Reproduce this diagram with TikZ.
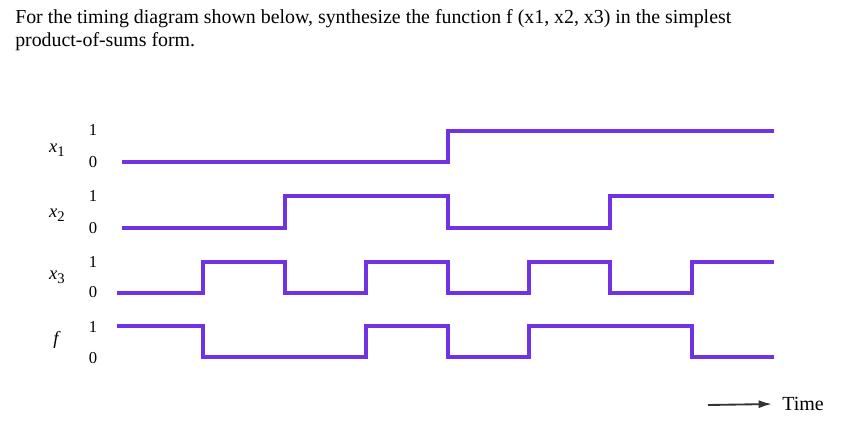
\documentclass[tikz,border=0pt]{standalone}
\usepackage{fontspec}
\setmainfont{Liberation Serif}
\usetikzlibrary{arrows.meta}
\definecolor{wavepurple}{RGB}{112,50,226}
\newcommand{\sig}[2]{\fontsize{14}{16}\selectfont\textit{#1}\raisebox{-0.45ex}{\fontsize{11}{12}\selectfont #2}}
\begin{document}
\begin{tikzpicture}[x=0.75pt, y=-0.75pt]
        \useasboundingbox (0, 0) rectangle (844, 447);
        \tikzset{wave/.style={line width=3pt, wavepurple}}
        \node[anchor=north west, align=left, inner sep=0pt, font=\fontsize{14.9}{17}\selectfont] (question) at (15, 9.5) {For the timing diagram shown below, synthesize the function f (x1, x2, x3) in the simplest\\product-of-sums form.};
        \node (lx1) at (57, 150) {\sig{x}{1}};
        \node (lx2) at (57, 215) {\sig{x}{2}};
        \node (lx3) at (57, 277) {\sig{x}{3}};
        \node (lf) at (57, 340) {\sig{f}{}};
        \foreach \lo/\hi/\nm in {162/130/a, 228/196/b, 292/262/c, 358/327/d} {
            \node[font=\fontsize{12.5}{14}\selectfont] (one\nm) at (93, \hi) {1};
            \node[font=\fontsize{12.5}{14}\selectfont] (zero\nm) at (93, \lo) {0};
        }
        \draw[wave] (122, 162) -- (447.6, 162) -- (447.6, 131) -- (774, 131);
        \draw[wave] (122, 228) -- (284.8, 228) -- (284.8, 196) -- (447.6, 196) -- (447.6, 228) -- (610.4, 228) -- (610.4, 196) -- (774, 196);
        \draw[wave] (117, 293) -- (203.4, 293) -- (203.4, 262) -- (284.8, 262) -- (284.8, 293) -- (366.2, 293) -- (366.2, 262) -- (447.6, 262) -- (447.6, 293) -- (529, 293) -- (529, 262) -- (610.4, 262) -- (610.4, 293) -- (691.8, 293) -- (691.8, 262) -- (774, 262);
        \draw[wave] (117, 326) -- (203.4, 326) -- (203.4, 357) -- (366.2, 357) -- (366.2, 326) -- (447.6, 326) -- (447.6, 357) -- (529, 357) -- (529, 326) -- (691.8, 326) -- (691.8, 357) -- (774, 357);
        \node[right, inner sep=0pt, font=\fontsize{15}{17}\selectfont] (time) at (782, 404) {Time};
        \coordinate (tstart) at (708, 405);
        \draw[line width=1.4pt, black!80, -{Latex[length=10pt, width=6pt]}] (tstart) -- ([xshift=-7.5pt]time.west);
    \end{tikzpicture}
\end{document}
